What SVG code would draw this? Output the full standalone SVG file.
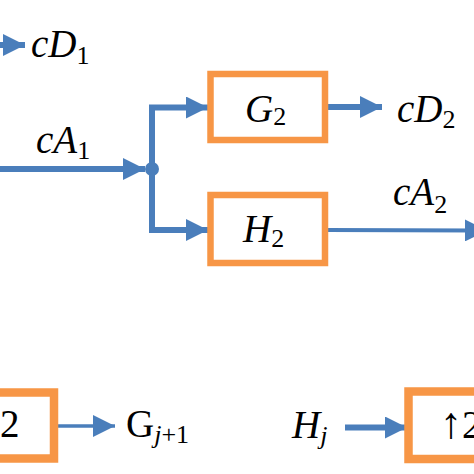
<svg xmlns="http://www.w3.org/2000/svg" width="474" height="474" viewBox="0 0 474 474">
<defs>
<marker id="ah" markerUnits="userSpaceOnUse" markerWidth="22" markerHeight="22" refX="22" refY="11" orient="auto" viewBox="0 0 22 22">
<path d="M0,0 L22,11 L0,22 Z" fill="#4a7ebb"/>
</marker>
<style>
.box{fill:#fff;stroke:#f79646}
.wire{fill:none;stroke:#4a7ebb;stroke-linejoin:miter}
.lbl{font-family:"Liberation Serif","Times New Roman",serif;font-size:39px;fill:#000}
.it{font-style:italic}
.sub{font-size:26px;font-style:normal}
.subi{font-size:26px;font-style:italic}
</style>
</defs>
<rect width="474" height="474" fill="#fff"/>
<g id="connectors">
<path class="wire" d="M-5,45 H25" stroke-width="6" marker-end="url(#ah)"/>
<path class="wire" d="M-5,169 H145" stroke-width="6" marker-end="url(#ah)"/>
<circle cx="152" cy="169" r="7" fill="#4a7ebb"/>
<path class="wire" d="M152,169 V107.5 H208" stroke-width="6" marker-end="url(#ah)"/>
<path class="wire" d="M152,169 V230 H208" stroke-width="6" marker-end="url(#ah)"/>
<path class="wire" d="M328,107 H382" stroke-width="6" marker-end="url(#ah)"/>
<path class="wire" d="M328,230 L487,230.5" stroke-width="4" marker-end="url(#ah)"/>
<path class="wire" d="M58,426 H115" stroke-width="3.5" marker-end="url(#ah)"/>
<path class="wire" d="M345,427.5 H407" stroke-width="6" marker-end="url(#ah)"/>
</g>
<g id="G2">
<rect class="box" x="210.5" y="74" width="114.5" height="66" stroke-width="6.5"/>
<text class="lbl" x="245" y="122"><tspan class="it">G</tspan><tspan class="sub" dy="3">2</tspan></text>
</g>
<g id="H2">
<rect class="box" x="210.5" y="195" width="114.5" height="68" stroke-width="6.5"/>
<text class="lbl" x="243" y="242"><tspan class="it">H</tspan><tspan class="sub" dy="5">2</tspan></text>
</g>
<g id="down2">
<rect class="box" x="-60" y="392.5" width="114" height="66" stroke-width="8.5"/>
<text class="lbl" x="0" y="437">2</text>
</g>
<g id="up2">
<rect class="box" x="408.5" y="391.5" width="114" height="67.5" stroke-width="8.5"/>
<text class="lbl" x="440" y="438"><tspan font-size="44px">↑</tspan>2</text>
</g>
<g id="labels">
<text class="lbl" x="31" y="57"><tspan class="it">cD</tspan><tspan class="sub" dy="7">1</tspan></text>
<text class="lbl" x="36" y="153"><tspan class="it">cA</tspan><tspan class="sub" dy="6">1</tspan></text>
<text class="lbl" x="397" y="122"><tspan class="it">cD</tspan><tspan class="sub" dy="6">2</tspan></text>
<text class="lbl" x="393" y="205"><tspan class="it">cA</tspan><tspan class="sub" dy="8">2</tspan></text>
<text class="lbl" x="126" y="437">G<tspan class="subi" dy="6">j</tspan><tspan class="sub">+1</tspan></text>
<text class="lbl" x="292" y="438"><tspan class="it">H</tspan><tspan class="subi" dy="6">j</tspan></text>
</g>
</svg>
